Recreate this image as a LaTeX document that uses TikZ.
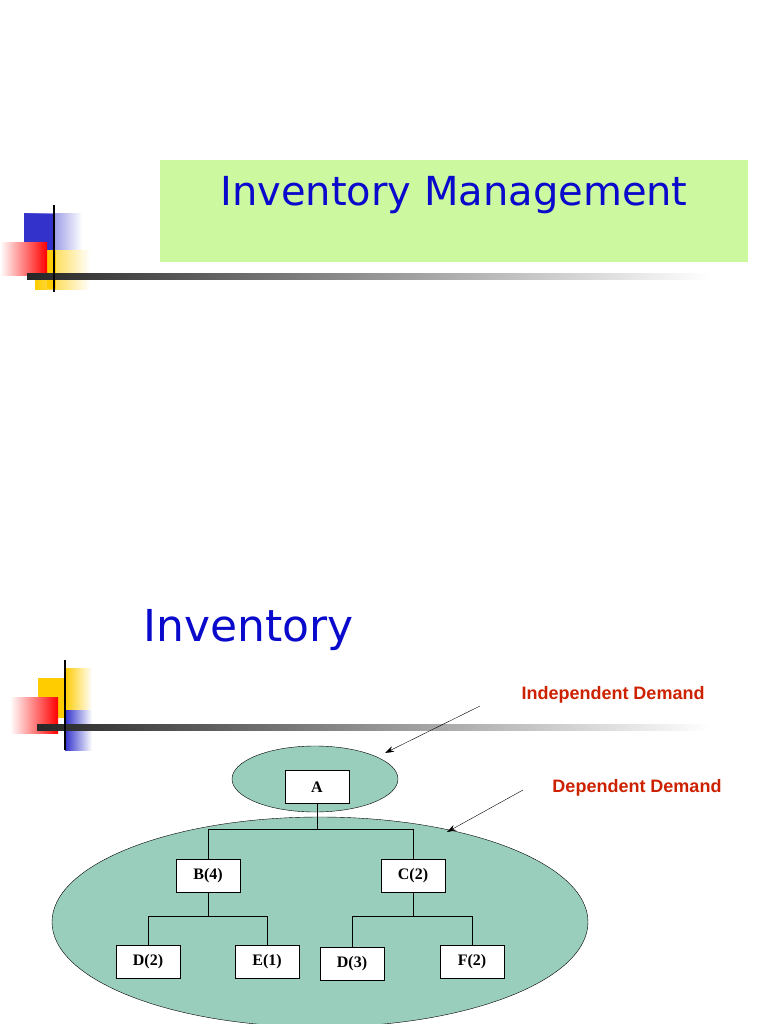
\documentclass[tikz,border=0pt]{standalone}
\usepackage{fontspec}
\setmainfont{Liberation Serif}
\newfontfamily\ttl{DejaVu Sans}
\newfontfamily\lab{Liberation Sans}
\usetikzlibrary{arrows.meta}
\definecolor{tgreen}{HTML}{CCF99F}
\definecolor{tblue}{HTML}{0A0ACC}
\definecolor{ell}{HTML}{99CDBC}
\definecolor{sq}{HTML}{3333CC}
\definecolor{yel}{HTML}{FFCC00}
\definecolor{lred}{HTML}{CC2200}
\tikzset{
  box/.style={draw,fill=white,minimum width=64pt,minimum height=33pt,inner sep=0pt,font=\bfseries\fontsize{16}{18}\selectfont},
  lbl/.style={text=lred,font=\lab\bfseries\fontsize{18}{20}\selectfont},
  ar/.style={-{Stealth[length=9pt,width=6pt]},thin},
  tree/.style={line width=0.8pt}
}
\begin{document}
\begin{tikzpicture}[x=1pt,y=-1pt]
\useasboundingbox (0,0) rectangle (768,1024);
\fill[white] (0,0) rectangle (768,1024);
% slide 1 decoration
\shade[left color=sq,right color=white] (24,214) rectangle (82,250);
\fill[sq] (24,214) rectangle (55,250);
\shade[left color=yel,right color=white] (35,250) rectangle (90,289);
\fill[yel] (47,250) rectangle (56,289);
\shade[left color=white,right color=red] (0,242) rectangle (47,275);
\shade[left color=black!85,right color=white] (27,273) rectangle (710,279);
\draw[line width=2.5pt] (54,205) -- (54,292);
% title
\node[fill=tgreen,minimum width=588pt,minimum height=102pt,inner sep=0pt] (tb) at (454,211) {};
\node[text=tblue,font=\ttl\fontsize{40}{44}\selectfont] (tt) at (454,195) {Inventory Management};
% slide 2 decoration
\fill[yel] (38,678) rectangle (65,718);
\shade[left color=yel,right color=white] (65,668) rectangle (92,712);
\shade[left color=white,right color=red] (10,697) rectangle (58,733);
\shade[left color=sq,right color=white] (65,710) rectangle (92,750);
\shade[left color=black!85,right color=white] (37,724) rectangle (710,730);
\draw[line width=2.5pt] (65,660) -- (65,750);
\node[text=tblue,font=\ttl\fontsize{44}{48}\selectfont,anchor=west] (t2) at (140,630) {Inventory};
% diagram
\draw[fill=ell] (320,922) ellipse [x radius=268,y radius=105];
\draw[fill=ell] (315,779) ellipse [x radius=83,y radius=33];
\coordinate (small) at (385,753);
\coordinate (big) at (447,832);
\node[box] (A) at (317,787) {A};
\node[box] (B) at (208,876) {B(4)};
\node[box] (C) at (413,876) {C(2)};
\node[box] (D2) at (148,962) {D(2)};
\node[box] (E) at (267,962) {E(1)};
\node[box] (D3) at (352,964) {D(3)};
\node[box] (F) at (472,962) {F(2)};
\draw[tree] (A.south) -- ++(0,26) -| (B.north);
\draw[tree] (A.south) ++(0,26) -| (C.north);
\draw[tree] (B.south) -- ++(0,24) -| (D2.north);
\draw[tree] (B.south) ++(0,24) -| (E.north);
\draw[tree] (C.south) -- ++(0,24) -| (D3.north);
\draw[tree] (C.south) ++(0,24) -| (F.north);
\node[lbl] (ind) at (613,695) {Independent Demand};
\node[lbl] (dep) at (637,788) {Dependent Demand};
\draw[ar] (480,706) -- (small);
\draw[ar] (523,790) -- (big);
\end{tikzpicture}
\end{document}
